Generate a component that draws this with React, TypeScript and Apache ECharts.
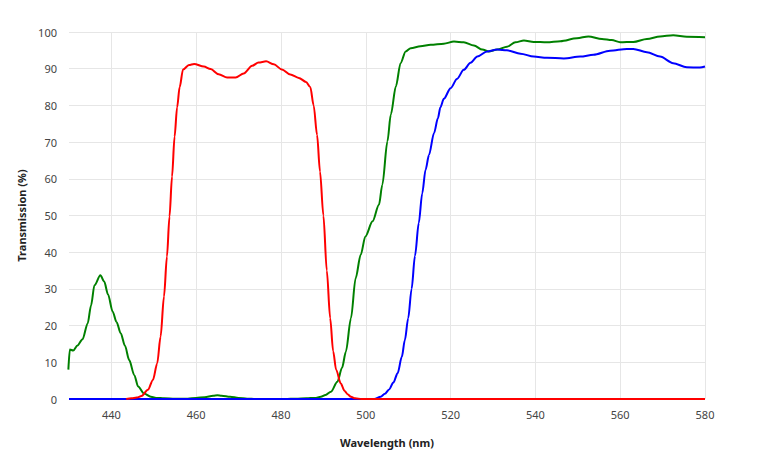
import React, { useEffect, useRef } from "react";
import * as echarts from "echarts";

const xTickLabels = [440, 460, 480, 500, 520, 540, 560, 580];

const greenData: [number, number][] = [
  [429.85, 8], [430.2, 13.5], [431, 13.2], [432, 14.6], [433.2, 16.3], [434.4, 20.6], [435.2, 25.5],
  [436, 31], [437.4, 33.7], [438.3, 32], [439.2, 28.5], [440.3, 23.8], [441.2, 21], [442.2, 17.9],
  [443.2, 14.5], [444.2, 10.6], [445.4, 6.5], [446.3, 3.4], [447.7, 1.5], [449.3, 0.6], [450.8, 0.3],
  [452.4, 0.2], [455, 0.05], [458, 0.1], [460, 0.3], [462, 0.5], [464, 0.9], [465, 1.0], [466, 0.9],
  [468, 0.6], [470, 0.3], [472, 0.1], [474, 0], [481, 0], [483.5, 0.1], [486, 0.2], [488, 0.3],
  [489.4, 0.6], [490.5, 1.1], [491.8, 2], [493.3, 4.7], [494.4, 8.5], [495.3, 12.9], [496.5, 22],
  [497.6, 32.9], [498.8, 39.3], [499.9, 44.3], [501.6, 48.4], [503.1, 52.9], [503.9, 58.4],
  [505.1, 70.2], [505.9, 77.5], [507.1, 85.2], [508.2, 91.5], [509.4, 94.7], [510.6, 95.6],
  [512.9, 96.1], [515.3, 96.5], [518.4, 96.8], [520.8, 97.4], [523.1, 97.2], [525.5, 96.3],
  [527.5, 95.2], [529, 94.7], [531, 95.2], [533.3, 96], [535.3, 97.2], [537.3, 97.7], [539.6, 97.3],
  [542.7, 97.2], [545.9, 97.5], [549.8, 98.3], [552.5, 98.8], [555.7, 98.1], [558, 97.8], [560, 97.2],
  [563.1, 97.3], [566.3, 98.1], [569.4, 98.8], [572.5, 99.1], [575.7, 98.7], [580, 98.6],
];

const blueData: [number, number][] = [
  [430, 0], [502, 0], [503.5, 0.6], [504.5, 1.4], [505.5, 2.6], [506.5, 4.5], [507.5, 7],
  [508.5, 11.5], [509.2, 16], [510, 22], [510.8, 30], [511.6, 39], [512.5, 48], [513.3, 56],
  [514.1, 62.5], [514.9, 66.5], [516.1, 72.5], [517, 76.5], [517.6, 79.5], [518.4, 81.8], [520, 84.7],
  [521.5, 87.2], [523.1, 89.7], [524.7, 91.6], [526.3, 93.3], [528.6, 94.7], [531, 95.2], [533.3, 95],
  [536.5, 94.1], [539.6, 93.3], [542.7, 93], [546.7, 92.8], [550.6, 93.3], [553.7, 93.8],
  [557.6, 94.9], [561.6, 95.4], [563.1, 95.4], [566.3, 94.5], [569.4, 93.3], [572.5, 91.5],
  [575.7, 90.4], [578.8, 90.3], [580, 90.6],
];

const redData: [number, number][] = [
  [443.5, 0], [444.7, 0.2], [446, 0.4], [447.1, 0.8], [448.6, 2.5], [449.8, 5.2], [450.8, 9.7],
  [451.6, 17], [452.4, 27.9], [453.1, 38.8], [453.7, 49.7], [454.3, 60.6], [454.9, 71.5],
  [455.5, 79.5], [456.1, 85], [456.9, 89.8], [458.3, 91], [459.5, 91.3], [461.8, 90.6],
  [463.4, 89.9], [465.3, 88.5], [467.3, 87.6], [469.3, 87.6], [471.2, 88.7], [473.2, 90.8],
  [474.7, 91.7], [476.5, 92], [478.3, 91.2], [480.2, 89.8], [482.2, 88.4], [484.2, 87.5],
  [485.9, 86.4], [486.9, 85], [487.7, 80], [488.5, 72], [489.2, 62], [490, 50], [490.8, 35],
  [491.6, 22], [492.3, 13], [493, 8], [494.1, 4.2], [495, 2.2], [495.7, 1.3], [496.5, 0.6],
  [497.5, 0.2], [499, 0], [580, 0],
];

const FONT = "'Noto Sans', sans-serif";

export default function App() {
  const ref = useRef<HTMLDivElement>(null);
  useEffect(() => {
    if (!ref.current) return;
    const chart = echarts.init(ref.current, undefined, { renderer: "svg" });
    const mk = (name: string, data: [number, number][], color: string) => ({
      name,
      type: "line",
      data,
      showSymbol: false,
      smooth: 0.3,
      smoothMonotone: "x",
      lineStyle: { color, width: 2 },
      itemStyle: { color },
      clip: true,
    });
    chart.setOption({
      animation: false,
      textStyle: { fontFamily: FONT },
      grid: { left: 60, right: 51, top: 24, bottom: 55, containLabel: false },
      xAxis: {
        type: "value",
        min: 430,
        max: 580,
        interval: 10,
        name: "Wavelength (nm)",
        nameLocation: "middle",
        nameGap: 38,
        nameTextStyle: { fontWeight: "bold", fontSize: 11, color: "#222", fontFamily: FONT },
        axisLine: { show: false },
        axisTick: { show: false },
        axisLabel: {
          color: "#444",
          fontSize: 11,
          margin: 10,
          fontFamily: FONT,
          formatter: (v: number) => (xTickLabels.includes(v) ? String(v) : ""),
        },
        splitLine: { show: true, lineStyle: { color: ["rgba(0,0,0,0)", "#e6e6e6"], width: 1 } },
      },
      yAxis: {
        type: "value",
        min: 0,
        max: 100,
        interval: 10,
        name: "Transmission (%)",
        nameLocation: "middle",
        nameGap: 42,
        nameTextStyle: { fontWeight: "bold", fontSize: 11, color: "#222", fontFamily: FONT },
        axisLine: { show: false },
        axisTick: { show: false },
        axisLabel: { color: "#444", fontSize: 11, margin: 12, fontFamily: FONT },
        splitLine: { show: true, lineStyle: { color: "#e6e6e6", width: 1 } },
      },
      series: [
        mk("Green", greenData, "#008000"),
        mk("Blue", blueData, "#0000ff"),
        mk("Red", redData, "#ff0000"),
      ],
    });
    return () => chart.dispose();
  }, []);
  return <div ref={ref} style={{ width: 748, height: 446 }} />;
}
